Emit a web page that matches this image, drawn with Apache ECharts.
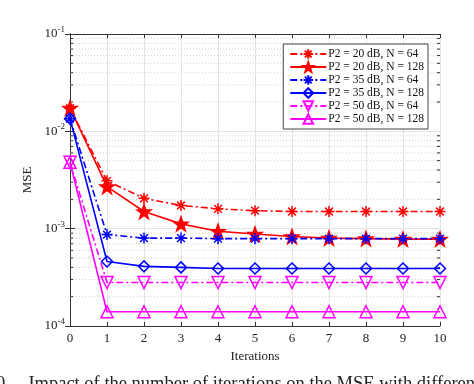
<!DOCTYPE html>
<html><head><meta charset="utf-8">
<script src="https://cdn.jsdelivr.net/npm/echarts@6/dist/echarts.min.js"></script>
<style>html,body{margin:0;padding:0;background:#fff}#c{width:474px;height:384px}</style>
</head><body><div id="c"></div>
<script>
const iterations = [0,1,2,3,4,5,6,7,8,9,10];
const seriesNames = ['P2 = 20 dB, N = 64','P2 = 20 dB, N = 128','P2 = 35 dB, N = 64','P2 = 35 dB, N = 128','P2 = 50 dB, N = 64','P2 = 50 dB, N = 128'];
const mse_20_64  = [0.0173, 0.0031, 0.00205, 0.00173, 0.0016, 0.00153, 0.0015, 0.0015, 0.0015, 0.0015, 0.0015];
const mse_20_128 = [0.0173, 0.0027, 0.0015, 0.00112, 0.00094, 0.00088, 0.00083, 0.0008, 0.00079, 0.00078, 0.00078];
const mse_35_64  = [0.0135, 0.00087, 0.0008, 0.0008, 0.00079, 0.00079, 0.00079, 0.00079, 0.00079, 0.00079, 0.00079];
const mse_35_128 = [0.0135, 0.00046, 0.00041, 0.0004, 0.00039, 0.00039, 0.00039, 0.00039, 0.00039, 0.00039, 0.00039];
const mse_50_64  = [0.0048, 0.00028, 0.00028, 0.00028, 0.00028, 0.00028, 0.00028, 0.00028, 0.00028, 0.00028, 0.00028];
const mse_50_128 = [0.0048, 0.00014, 0.00014, 0.00014, 0.00014, 0.00014, 0.00014, 0.00014, 0.00014, 0.00014, 0.00014];
const xTicks = [0,1,2,3,4,5,6,7,8,9,10];
const yDecades = [1e-4, 1e-3, 1e-2, 1e-1];
const minorVals = [];
[1e-4,1e-3,1e-2].forEach(d => { for (let k=2;k<=9;k++) minorVals.push(+(k*d).toPrecision(3)); });

const FONT = '"Liberation Serif", "DejaVu Serif", serif';
const ASTER = 'path://M0,-10L0,10M-10,0L10,0M-7.07,-7.07L7.07,7.07M-7.07,7.07L7.07,-7.07';
const STAR = 'path://M0,-10L2.35,-3.24L9.51,-3.09L3.8,1.24L5.88,8.09L0,4L-5.88,8.09L-3.8,1.24L-9.51,-3.09L-2.35,-3.24Z';
const RED = '#ff0000', BLUE = '#0000ff', MAG = '#ff00ff';
const dashDot = [7,3,2,3];

function mk(name, data, color, dash, symbol, size, filled) {
  return {
    name, type: 'line', data: iterations.map((x,i)=>[x,data[i]]),
    symbol, symbolSize: size, showSymbol: true,
    lineStyle: {color, width: 1.6, type: dash ? dashDot : 'solid'},
    itemStyle: {color: filled ? color : 'rgba(255,255,255,0)', borderColor: color, borderWidth: 1.5},
    z: 5
  };
}

const chart = echarts.init(document.getElementById('c'));
chart.setOption({
  animation: false,
  backgroundColor: '#fff',
  grid: {left: 70, right: 34, top: 34, bottom: 58},
  xAxis: [{
    type: 'value', min: 0, max: 10, interval: 1,
    name: 'Iterations', nameLocation: 'middle', nameGap: 19,
    nameTextStyle: {fontFamily: FONT, fontSize: 13, color: '#222'},
    axisLine: {lineStyle: {color: '#333', width: 1}},
    axisTick: {inside: true, length: 4, lineStyle: {color: '#333'}},
    axisLabel: {fontFamily: FONT, fontSize: 13, color: '#222', margin: 6},
    splitLine: {show: true, lineStyle: {color: '#e4e4e4', width: 1}}
  },{
    type: 'value', min: 0, max: 10, interval: 1, position: 'top',
    axisLine: {show: true, lineStyle: {color: '#333', width: 1}},
    axisTick: {inside: true, length: 4, lineStyle: {color: '#333'}},
    axisLabel: {show: false}, splitLine: {show: false}
  }],
  yAxis: [{
    type: 'log', logBase: 10, min: 1e-4, max: 1e-1,
    name: 'MSE', nameLocation: 'middle', nameGap: 28,
    nameTextStyle: {fontFamily: FONT, fontSize: 13, color: '#222'},
    axisLine: {show: true, lineStyle: {color: '#333', width: 1}},
    axisTick: {show: true, inside: true, length: 5, lineStyle: {color: '#333'}},
    axisLabel: {
      fontFamily: FONT, fontSize: 13, color: '#222', margin: 5,
      formatter: v => '10{s|' + Math.round(Math.log10(v)) + '}',
      rich: {s: {fontFamily: FONT, fontSize: 9, color: '#222', padding: [0,0,9,0]}}
    },
    splitLine: {show: true, lineStyle: {color: '#e4e4e4', width: 1}}
  },{
    type: 'log', logBase: 10, min: 1e-4, max: 1e-1, position: 'right',
    axisLine: {show: true, lineStyle: {color: '#333', width: 1}},
    axisTick: {show: true, inside: true, length: 5, lineStyle: {color: '#333'}},
    axisLabel: {show: false}, splitLine: {show: false}
  }],
  legend: {
    data: seriesNames,
    right: 46, top: 44, orient: 'vertical',
    backgroundColor: '#fff', borderColor: '#444', borderWidth: 1,
    padding: [4, 4, 4, 6], itemGap: 1, itemWidth: 36, itemHeight: 12,
    textStyle: {fontFamily: FONT, fontSize: 11.5, color: '#111', padding: [0,0,0,-3]}
  },
  graphic: [{
    type: 'text', left: -4, top: 375, silent: true,
    style: {text: '0.    Impact of the number of iterations on the MSE with different', font: '18.5px ' + FONT, fill: '#222'}
  }],
  series: [
    {
      type: 'custom', silent: true, z: 1, xAxisIndex: 0, yAxisIndex: 0,
      data: minorVals.map(v=>[0,v]),
      renderItem: (params, api) => {
        const v = api.value(1);
        const a = api.coord([0, v]), b = api.coord([10, v]);
        return {type: 'group', children: [
          {type: 'line', shape: {x1: a[0], y1: a[1], x2: b[0], y2: b[1]}, style: {stroke: '#d0d0d0', lineWidth: 1, lineDash: [1,2]}},
          {type: 'line', shape: {x1: a[0], y1: a[1], x2: a[0]+3, y2: a[1]}, style: {stroke: '#333', lineWidth: 1}},
          {type: 'line', shape: {x1: b[0], y1: b[1], x2: b[0]-3, y2: b[1]}, style: {stroke: '#333', lineWidth: 1}}
        ]};
      }
    },
    mk(seriesNames[0], mse_20_64, RED, true, ASTER, 11, false),
    mk(seriesNames[1], mse_20_128, RED, false, STAR, 14, true),
    mk(seriesNames[2], mse_35_64, BLUE, true, ASTER, 11, false),
    mk(seriesNames[3], mse_35_128, BLUE, false, 'diamond', 11, false),
    mk(seriesNames[4], mse_50_64, MAG, true, 'path://M-10,-8L10,-8L0,9Z', 12, false),
    mk(seriesNames[5], mse_50_128, MAG, false, 'triangle', 12, false)
  ]
});
</script>
</body></html>
